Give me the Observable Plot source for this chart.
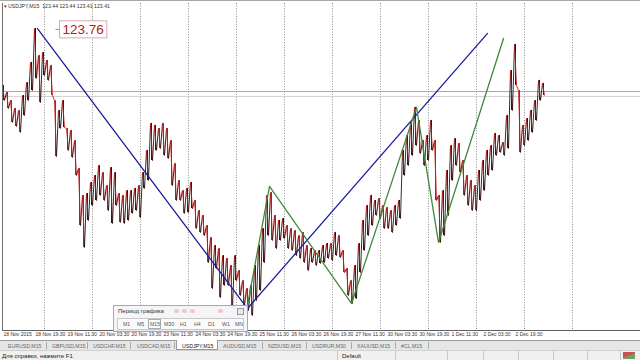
<!DOCTYPE html>
<html><head><meta charset="utf-8">
<script src="https://cdn.jsdelivr.net/npm/d3@7"></script>
<script src="https://cdn.jsdelivr.net/npm/@observablehq/plot@0.6"></script>
<style>
body{margin:0;background:#fff;font-family:"Liberation Sans",Arial,sans-serif;}
#wrap{position:relative;width:640px;height:360px;overflow:hidden;background:#fff;}
#chart{position:absolute;left:0;top:0;}
#topline{position:absolute;left:0;top:0;width:640px;height:1px;background:#a8a8a8;}
#tabs{position:absolute;left:0;top:340px;width:640px;height:10px;background:#e6e6e6;border-top:1px solid #9a9a9a;box-sizing:border-box;}
.tab{position:absolute;top:1px;font-size:5.2px;color:#666;white-space:nowrap;line-height:8px;}
.sep{position:absolute;top:1px;width:1px;height:7px;background:#aaa;}
.sel{position:absolute;top:-1px;height:10px;background:#fff;border:1px solid #999;border-top:none;box-sizing:border-box;}
#status{position:absolute;left:0;top:350px;width:640px;height:10px;background:#f0f0f0;border-top:1px solid #d0d0d0;box-sizing:border-box;}
.st{position:absolute;top:1px;font-size:6px;color:#222;white-space:nowrap;line-height:8px;}
.ssep{position:absolute;top:0;width:1px;height:9px;background:#c8c8c8;}
#popup{position:absolute;left:113px;top:305px;width:135px;height:27px;background:rgba(244,244,246,0.93);border:1px solid #a8a8b0;box-sizing:border-box;}
#popup .ttl{position:absolute;left:4px;top:2px;font-size:6px;color:#333;}
#popup .cls{position:absolute;right:3px;top:2px;width:7px;height:7px;border:1px solid #999;background:#e8e8f0;box-sizing:border-box;}
#popup .row{position:absolute;left:3px;top:12px;width:127px;height:12px;border:1px solid #c8c8cc;background:#fafafa;box-sizing:border-box;}
#popup .b{position:absolute;top:2px;font-size:5.2px;color:#555;}
#popup .bs{position:absolute;top:0px;width:13px;height:10px;border:1px solid #aaa;box-sizing:border-box;}
#popup .pink{position:absolute;top:3px;width:5px;height:4px;border-radius:2px;background:rgba(230,140,160,0.45);}
</style>
</head><body>
<div id="wrap">
  <div id="chart"></div>
  <div id="topline"></div>
  <div id="tabs"></div>
  <div id="status"></div>
  <div id="popup"></div>
</div>
<script>
// ---- data ----
const symbol = "USDJPY,M15";
const ohlc = [123.44, 123.44, 123.41, 123.41];
const bidPrice = 123.41;
const askLine = 123.383;
const peakLabel = "123.76";
const peakPrice = 123.76;
const peakBar = 70;

// candle envelope per column (every 8 bars of M15)
const hiPrice = [123.444,123.405,123.360,123.316,123.305,123.388,123.460,123.572,123.760,123.610,
123.627,123.583,123.555,123.360,123.305,123.360,123.205,123.194,123.138,122.983,
122.833,122.844,122.905,122.944,122.999,122.960,122.888,122.988,122.960,122.844,
122.833,122.860,122.860,122.872,122.888,122.960,123.083,123.233,123.222,123.205,
123.233,123.205,123.138,123.010,122.916,122.860,122.872,122.905,122.805,122.749,
122.722,122.666,122.599,122.555,122.538,122.499,122.483,122.444,122.499,122.416,
122.360,122.316,122.333,122.444,122.555,122.649,122.833,122.849,122.722,122.694,
122.705,122.666,122.649,122.638,122.610,122.627,122.555,122.538,122.527,122.527,
122.555,122.566,122.566,122.627,122.610,122.527,122.427,122.360,122.444,122.566,
122.694,122.777,122.833,122.805,122.816,122.777,122.766,122.749,122.777,122.805,
123.083,123.166,123.238,123.322,123.249,123.138,123.166,123.249,123.138,122.833,
122.860,122.972,123.110,123.149,123.122,123.027,122.944,122.916,122.888,122.972,
123.027,123.083,123.110,123.177,123.166,123.127,123.277,123.527,123.672,123.416,
123.222,123.260,123.305,123.360,123.472,123.455];
const loPrice = [123.360,123.316,123.238,123.216,123.183,123.277,123.360,123.416,123.483,123.349,
123.499,123.472,123.388,123.049,123.205,123.210,123.083,123.044,122.944,122.666,
122.544,122.694,122.777,122.805,122.833,122.805,122.749,122.677,122.777,122.683,
122.677,122.694,122.733,122.749,122.710,122.872,122.916,123.027,123.083,123.094,
123.055,123.038,122.888,122.805,122.805,122.733,122.738,122.760,122.649,122.627,
122.610,122.460,122.316,122.427,122.266,122.333,122.333,122.210,122.360,122.277,
122.222,122.194,122.166,122.249,122.305,122.460,122.610,122.583,122.538,122.583,
122.594,122.538,122.527,122.499,122.483,122.460,122.416,122.460,122.444,122.455,
122.460,122.483,122.472,122.499,122.488,122.405,122.277,122.233,122.260,122.405,
122.527,122.610,122.666,122.722,122.705,122.649,122.649,122.627,122.666,122.705,
122.944,122.999,123.055,123.110,123.066,122.999,123.027,123.083,122.805,122.572,
122.610,122.722,122.916,122.999,122.960,122.833,122.777,122.749,122.749,122.805,
122.860,122.944,122.972,123.055,123.072,123.055,123.094,123.305,123.444,123.072,
123.110,123.138,123.183,123.249,123.360,123.388];
const barsPerColumn = 8;

const blueBars = [70, 490, 970];
const bluePrices = [123.760, 122.205, 123.733];
const greenBars = [488, 534, 698, 828, 872, 1002];
const greenPrices = [122.194, 122.883, 122.233, 123.322, 122.572, 123.705];

const tickBars = [0,64,128,192,256,320,384,448,512,576,640,704,768,832,896,960,1024];
const timeLabels = ["18 Nov 2015","18 Nov 19:30","19 Nov 11:30","20 Nov 03:30","20 Nov 19:30",
"23 Nov 11:30","24 Nov 03:30","24 Nov 19:30","25 Nov 11:30","26 Nov 03:30","26 Nov 19:30",
"27 Nov 11:30","30 Nov 03:30","30 Nov 19:30","1 Dec 11:30","2 Dec 03:30","2 Dec 19:30"];
const gridBars = [84,180,276,372,468,564,660,756,852,948,1044,1140];

const tabNames = ["EURUSD,M15","GBPUSD,M15","USDCHF,M15","USDCAD,M15","USDJPY,M15","AUDUSD,M15","NZDUSD,M15","USDRUR,M30","XAUUSD,M15","#CL,M15"];
const activeTab = "USDJPY,M15";
const periods = ["M1","M5","M15","M30","H1","H4","D1","W1","MN"];
const activePeriod = "M15";
const statusHelp = "Для справки, нажмите F1";
const statusProfile = "Default";

// ---- build ----
const RED = "#c41818", BLACK = "#161616";
const pts = [];
hiPrice.forEach((h, k) => {
  pts.push({bar: k * barsPerColumn, p: h});
  pts.push({bar: k * barsPerColumn + barsPerColumn / 2, p: loPrice[k]});
});
const segs = [];
for (let i = 1; i < pts.length; i++) {
  segs.push({b1: pts[i-1].bar, p1: pts[i-1].p, b2: pts[i].bar, p2: pts[i].p,
             c: pts[i].p < pts[i-1].p ? RED : BLACK});
}
const cols = hiPrice.map((h, k) => {
  const mid = (h + loPrice[k]) / 2;
  const prev = k > 0 ? (hiPrice[k-1] + loPrice[k-1]) / 2 : mid;
  return {bar: k * barsPerColumn + 2, hi: h, lo: loPrice[k], c: mid < prev ? RED : BLACK};
});
const blue = blueBars.map((b, i) => ({bar: b, p: bluePrices[i]}));
const green = greenBars.map((b, i) => ({bar: b, p: greenPrices[i]}));
const ticks = tickBars.map((b, i) => ({bar: b, label: timeLabels[i]}));
const header = "\u25BE " + symbol + "  " + ohlc.map(v => v.toFixed(2)).join(" ");

const chart = Plot.plot({
  width: 640, height: 341,
  marginLeft: 2, marginRight: 0, marginTop: 3, marginBottom: 11,
  style: {fontFamily: "'Liberation Sans', Arial, sans-serif", background: "#fff", overflow: "visible"},
  x: {domain: [0, 1276], axis: null},
  y: {domain: [122.083, 123.899], axis: null},
  marks: [
    Plot.ruleX(gridBars, {stroke: "#8a8a8a", strokeDasharray: "1,1.6", strokeWidth: 1}),
    Plot.ruleY([askLine], {stroke: "#cfcfcf", strokeWidth: 1}),
    Plot.ruleY([bidPrice], {stroke: "#d9957a", strokeWidth: 1}),
    Plot.ruleX(cols, {x: "bar", y1: "lo", y2: "hi", stroke: "c", strokeWidth: 1}),
    Plot.link(segs, {x1: "b1", y1: "p1", x2: "b2", y2: "p2", stroke: d => d.c, strokeWidth: 0.9}),
    Plot.line(blue, {x: "bar", y: "p", stroke: "#1f1f9a", strokeWidth: 1.3}),
    Plot.line(green, {x: "bar", y: "p", stroke: "#3f8a3a", strokeWidth: 1.3}),
    Plot.ruleX([0], {stroke: "#707070", strokeWidth: 1}),
    Plot.ruleY([122.083], {stroke: "#606060", strokeWidth: 1}),
    Plot.text(ticks, {x: "bar", text: "label", frameAnchor: "bottom", dy: 5.5, dx: 1, textAnchor: "start", fontSize: 5, fill: "#333"}),
    Plot.text([header], {frameAnchor: "top-left", dx: 1, dy: 0.5, lineAnchor: "top", textAnchor: "start", fontSize: 5.2, fill: "#333"}),
    Plot.text([peakLabel], {x: () => peakBar, y: () => peakPrice, dx: 25, dy: 1, textAnchor: "start", fontSize: 13.5, fill: "#b32020"})
  ]
});
document.getElementById("chart").appendChild(chart);

// box behind the price annotation
const noteT = Array.from(chart.querySelectorAll("text")).find(t => t.textContent === peakLabel);
if (noteT) {
  const bb = noteT.getBBox();
  const tr = noteT.getAttribute("transform");
  const g = noteT.parentNode;
  const r = document.createElementNS("http://www.w3.org/2000/svg", "rect");
  r.setAttribute("x", bb.x - 3); r.setAttribute("y", bb.y - 1);
  r.setAttribute("width", bb.width + 6); r.setAttribute("height", bb.height + 2);
  r.setAttribute("fill", "#fff"); r.setAttribute("stroke", "#dba8a8"); r.setAttribute("stroke-width", "1");
  if (tr) r.setAttribute("transform", tr);
  const ln = document.createElementNS("http://www.w3.org/2000/svg", "line");
  const my = bb.y + bb.height * 0.5;
  ln.setAttribute("x1", bb.x - 7); ln.setAttribute("x2", bb.x - 3);
  ln.setAttribute("y1", my); ln.setAttribute("y2", my);
  ln.setAttribute("stroke", "#c08080");
  if (tr) ln.setAttribute("transform", tr);
  g.insertBefore(r, noteT);
  g.insertBefore(ln, noteT);
}

// tabs
const tabLeft = [8, 52, 93, 137, 182, 223, 268, 312, 357, 401];
const sepLeft = [46, 87, 130, 174, 262, 306, 351, 395, 428];
const tabs = document.getElementById("tabs");
tabNames.forEach((n, i) => {
  if (n === activeTab) {
    const s = document.createElement("div"); s.className = "sel";
    s.style.left = (tabLeft[i] - 6) + "px"; s.style.width = "42px"; tabs.appendChild(s);
  }
  const d = document.createElement("div"); d.className = "tab"; d.textContent = n;
  d.style.left = tabLeft[i] + "px"; if (n === activeTab) d.style.color = "#111";
  tabs.appendChild(d);
});
sepLeft.forEach(x => { const s = document.createElement("div"); s.className = "sep"; s.style.left = x + "px"; tabs.appendChild(s); });

// status bar
const st = document.getElementById("status");
[[statusHelp, 2], [statusProfile, 342]].forEach(([t, x]) => {
  const d = document.createElement("div"); d.className = "st"; d.textContent = t; d.style.left = x + "px"; st.appendChild(d);
});
[337, 395, 447, 483, 518, 553, 587, 620].forEach(x => { const s = document.createElement("div"); s.className = "ssep"; s.style.left = x + "px"; st.appendChild(s); });
const ic = document.createElement("div");
ic.style.cssText = "position:absolute;left:623px;top:1px;width:12px;height:7px;background:linear-gradient(160deg,#c85050 0 45%,#70a060 55% 100%);";
st.appendChild(ic);

// period popup
const pp = document.getElementById("popup");
pp.innerHTML = '<div class="ttl">Период графика</div><div class="cls"></div><div class="row"></div>';
[60, 68, 76, 104].forEach(x => { const d = document.createElement("div"); d.className = "pink"; d.style.left = x + "px"; pp.appendChild(d); });
const row = pp.querySelector(".row");
const pLeft = [5, 19, 32, 46, 62, 76, 90, 104, 117];
periods.forEach((p, i) => {
  if (p === activePeriod) { const s = document.createElement("div"); s.className = "bs"; s.style.left = (pLeft[i] - 2) + "px"; row.appendChild(s); }
  const d = document.createElement("div"); d.className = "b"; d.textContent = p; d.style.left = pLeft[i] + "px"; row.appendChild(d);
});
</script>
</body></html>
